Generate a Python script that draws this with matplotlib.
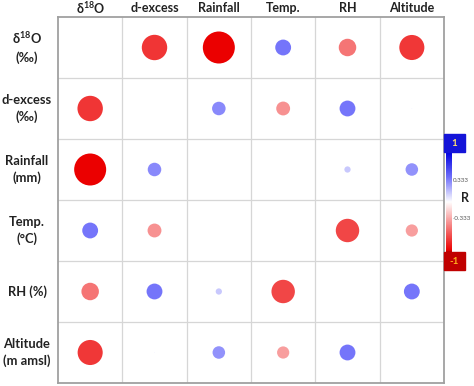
import matplotlib.pyplot as plt
import numpy as np
from matplotlib.colors import LinearSegmentedColormap
from matplotlib.patches import Rectangle

plt.rcParams['font.family'] = ['Lato', 'DejaVu Sans']
plt.rcParams['mathtext.fontset'] = 'custom'
plt.rcParams['mathtext.rm'] = 'Lato:bold'
plt.rcParams['mathtext.bf'] = 'Lato:bold'

### data ###
col_labels = ['δ$^{18}$O', 'd-excess', 'Rainfall', 'Temp.', 'RH', 'Altitude']
row_labels = ['δ$^{18}$O\n(‰)', 'd-excess\n(‰)', 'Rainfall\n(mm)', 'Temp.\n(°C)', 'RH (%)', 'Altitude\n(m amsl)']

# pairwise R (upper triangle, nan = not shown)
r_dexcess = [-0.77]
r_rainfall = [-0.97, 0.41]
r_temp = [0.48, -0.42, np.nan]
r_rh = [-0.53, 0.48, 0.19]
r_rh_temp = -0.71
r_altitude = [-0.76, 0.03, 0.38, -0.37, 0.48]

n = len(col_labels)
R = np.full((n, n), np.nan)
R[0, 1] = r_dexcess[0]
R[0:2, 2] = r_rainfall
R[0:3, 3] = r_temp
R[0:3, 4] = r_rh
R[3, 4] = r_rh_temp
R[0:5, 5] = r_altitude
R = np.where(np.isnan(R), R.T, R)

cmap = LinearSegmentedColormap.from_list(
    'rw_b', [(0.0, '#B80000'), (0.012, '#EC0000'), (0.5, '#FFFFFF'),
             (0.75, '#7070FA'), (1.0, '#0000E0')])

W, H = 474, 386
fig = plt.figure(figsize=(W / 100, H / 100), dpi=100)

def fx(px):
    return px / W

def fy(py):
    return 1 - py / H

# table area
left, right, top, bottom = 58, 444, 17, 383
ax = fig.add_axes([fx(left), fy(bottom), fx(right - left), fy(top) - fy(bottom)])
ax.set_xlim(0, n)
ax.set_ylim(n, 0)
ax.set_xticks([])
ax.set_yticks([])
for s in ax.spines.values():
    s.set_color('#A0A0A0')
    s.set_linewidth(1.3)
for k in range(1, n):
    ax.axvline(k, color='#D6D6D6', lw=0.9)
    ax.axhline(k, color='#D6D6D6', lw=0.9)

yy, xx = np.meshgrid(np.arange(n), np.arange(n), indexing='ij')
mask = ~np.isnan(R)
vals = R[mask]
diam_pt = 33 * np.abs(vals) * 0.72
ax.scatter(xx[mask] + 0.5, yy[mask] + 0.5, s=diam_pt ** 2, c=vals, cmap=cmap,
           vmin=-1, vmax=1, edgecolors='none', zorder=3)

col_w = (right - left) / n
for j, lab in enumerate(col_labels):
    fig.text(fx(left + col_w * (j + 0.5)), fy(8.5), lab, ha='center', va='center',
             fontsize=9, fontweight='bold', color='#222222')
for i, lab in enumerate(row_labels):
    fig.text(fx(27), fy(top + 61 * i + 30.5), lab, ha='center', va='center',
             fontsize=9.3, fontweight='bold', color='#222222', linespacing=1.5)

# colour bar
cax = fig.add_axes([fx(446), fy(252), fx(6), fy(152) - fy(252)])
grad = np.linspace(1, -1, 200).reshape(-1, 1)
cax.imshow(grad, aspect='auto', cmap=cmap, vmin=-1, vmax=1, extent=[0, 1, -1, 1])
cax.set_axis_off()

fig.add_artist(Rectangle((fx(444), fy(152)), fx(21), fy(134) - fy(152),
                         transform=fig.transFigure, color='#1414D8', zorder=5))
fig.add_artist(Rectangle((fx(444), fy(270)), fx(21), fy(252) - fy(270),
                         transform=fig.transFigure, color='#C00000', zorder=5))
fig.text(fx(454.5), fy(143), '1', ha='center', va='center', fontsize=7,
         fontweight='bold', color='#FFE070', zorder=6)
fig.text(fx(454.5), fy(261), '-1', ha='center', va='center', fontsize=7,
         fontweight='bold', color='#FFB020', zorder=6)
fig.text(fx(453), fy(181), '0.333', ha='left', va='center', fontsize=4.5, color='#555555')
fig.text(fx(453), fy(219), '-0.333', ha='left', va='center', fontsize=4.5, color='#555555')
fig.text(fx(465), fy(198), 'R', ha='center', va='center', fontsize=9,
         fontweight='bold', color='#222222')

fig.savefig('out.png', dpi=100)
